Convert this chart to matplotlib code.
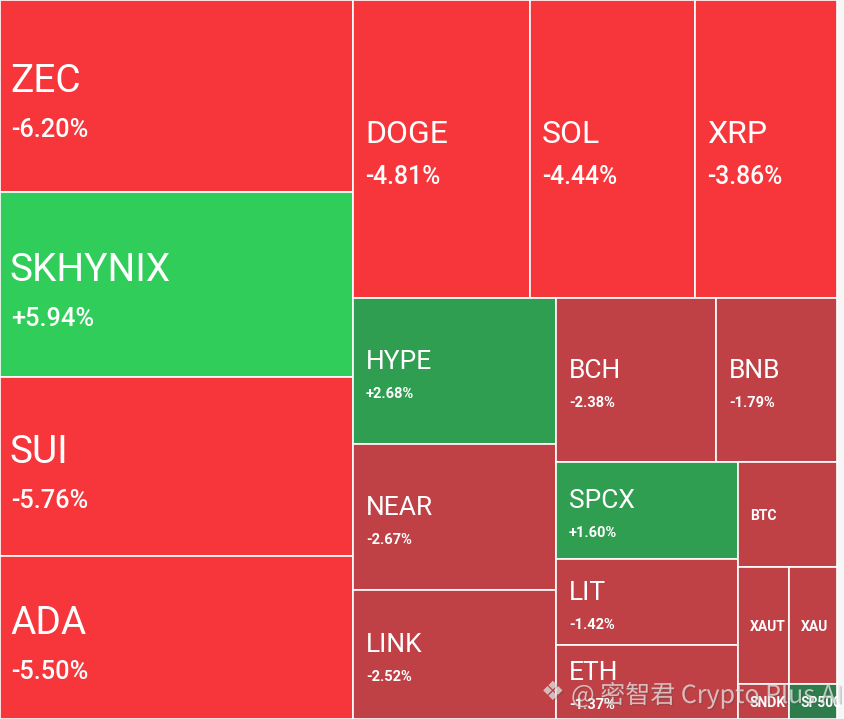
import math
import matplotlib.pyplot as plt
from matplotlib.patches import Rectangle
import matplotlib.patheffects as pe

# market tiles, already sorted by weight (largest first)
names = ["ZEC", "SKHYNIX", "SUI", "ADA", "DOGE", "SOL", "XRP", "HYPE", "NEAR", "LINK",
         "BCH", "BNB", "SPCX", "LIT", "ETH", "BTC", "XAUT", "XAU", "SNDK", "SP500"]
changes = [-6.20, 5.94, -5.76, -5.50, -4.81, -4.44, -3.86, 2.68, -2.67, -2.52,
           -2.38, -1.79, 1.60, -1.42, -1.37, -1.15, -0.85, -0.80, -1.10, 0.30]
weights = [67.8, 65.3, 63.2, 57.5, 52.7, 49.2, 42.3, 29.6, 29.6, 26.2,
           26.2, 19.8, 17.7, 15.7, 13.5, 10.4, 6.0, 5.6, 1.8, 1.7]
watermark = "@ 密智君 Crypto Plus AI"

W, H = 837, 719
GOLDEN = (1 + math.sqrt(5)) / 2


def worst(row, fixed):
    s = sum(row)
    f = fixed * fixed * GOLDEN
    return max(f * max(row) / (s * s), (s * s) / (f * min(row)))


def place(row, fixed, rect, flush):
    x, y, w, h = rect
    s = sum(a for _, a in row)
    out = []
    if fixed == w:
        other = h if flush else min(s / fixed, h)
        cx = x
        for k, (i, a) in enumerate(row):
            ww = (x + w - cx) if k == len(row) - 1 else a / other
            out.append((i, cx, y, ww, other))
            cx += ww
        rect = (x, y + other, w, h - other)
    else:
        other = w if flush else min(s / fixed, w)
        cy = y
        for k, (i, a) in enumerate(row):
            hh = (y + h - cy) if k == len(row) - 1 else a / other
            out.append((i, x, cy, other, hh))
            cy += hh
        rect = (x + other, y, w - other, h)
    return out, rect


def squarify(areas, width, height):
    rect = (0, 0, width, height)
    fixed = min(width, height)
    cells, row, best, i = [], [], math.inf, 0
    while i < len(areas):
        row.append((i, areas[i]))
        score = worst([a for _, a in row], fixed)
        if score <= best:
            best = score
            i += 1
        else:
            row.pop()
            out, rect = place(row, fixed, rect, False)
            cells += out
            fixed = min(rect[2], rect[3])
            row, best = [], math.inf
    if row:
        out, rect = place(row, fixed, rect, True)
        cells += out
    return cells


def tile_color(c):
    if c <= -3:
        return "#f6363b"
    if c < 0:
        return "#bf4146"
    if c >= 5:
        return "#30cd5a"
    if c >= 1:
        return "#2f9e50"
    return "#2e7b4b"


total = sum(weights)
areas = [v / total * W * H for v in weights]
cells = squarify(areas, W, H)

fig = plt.figure(figsize=(8.45, 7.19), dpi=100, facecolor="#f7f7f7")
ax = fig.add_axes([0, 0, 1, 1])
ax.set_xlim(0, 845)
ax.set_ylim(719, 0)
ax.axis("off")

font = "Roboto"
for i, x, y, w, h in cells:
    patch = Rectangle((x, y), w, h, facecolor=tile_color(changes[i]),
                      edgecolor="white", linewidth=1.2)
    ax.add_patch(patch)
    a = w * h
    cy = y + h / 2
    pct = f"{changes[i]:+.2f}%"
    texts = []
    if a >= 55000:
        texts.append(ax.text(x + 10, cy - 4, names[i], fontsize=28, color="white",
                             family=font, va="baseline"))
        texts.append(ax.text(x + 11, cy + 41, pct, fontsize=18.3, color="white",
                             family=font, weight="medium", va="baseline"))
    elif a >= 40000:
        texts.append(ax.text(x + 12, cy - 6, names[i], fontsize=23, color="white",
                             family=font, va="baseline"))
        texts.append(ax.text(x + 12, cy + 35, pct, fontsize=17.8, color="white",
                             family=font, weight="medium", va="baseline"))
    elif a >= 12000:
        texts.append(ax.text(x + 13, cy - 2, names[i], fontsize=19, color="white",
                             family=font, va="baseline"))
        texts.append(ax.text(x + 13, cy + 27, pct, fontsize=10.5, color="white",
                             family=font, weight="bold", va="baseline"))
    else:
        texts.append(ax.text(x + 12, cy + 6, names[i], fontsize=10, color="white",
                             family=font, weight="bold", va="baseline"))
    for t in texts:
        t.set_clip_path(patch)

# watermark
shadow = [pe.withSimplePatchShadow(offset=(1, -1), alpha=0.25)]
ax.text(541, 700, "❖", fontsize=19, color="#e6e6e6", alpha=0.75,
        family=["DejaVu Sans"], va="baseline", path_effects=shadow)
ax.text(571, 703, watermark, fontsize=18, color="#e6e6e6", alpha=0.75,
        family=["Noto Sans CJK SC", "DejaVu Sans"], va="baseline", path_effects=shadow)

fig.savefig("out.png", dpi=100, facecolor=fig.get_facecolor())
